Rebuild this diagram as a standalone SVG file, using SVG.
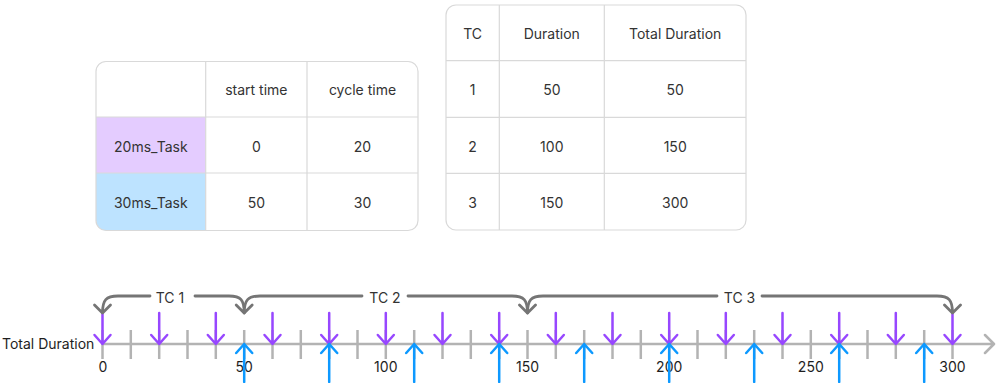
<svg xmlns="http://www.w3.org/2000/svg" xmlns:xlink="http://www.w3.org/1999/xlink" width="1000" height="383" viewBox="0 0 1000 383">
<style>
.t{font-family:Inter,"Noto Sans","Liberation Sans",sans-serif;font-size:14px;fill:#333;text-anchor:middle;dominant-baseline:central}
.b{fill:none;stroke:#d9d9d9;stroke-width:1.2}
.ax{font-family:Inter,"Noto Sans","Liberation Sans",sans-serif;font-size:14px;fill:#1e1e1e;text-anchor:middle}
.tick{stroke:#b3b3b3;stroke-width:2.5;fill:none}
.pa{stroke:#9747ff;stroke-width:2.5;fill:none;stroke-linecap:round;stroke-linejoin:round}
.ba{stroke:#0d99ff;stroke-width:2.5;fill:none;stroke-linecap:round;stroke-linejoin:round}
.br{stroke:#757575;stroke-width:2.8;fill:none;stroke-linecap:round;stroke-linejoin:round}
.tc{font-family:Inter,"Noto Sans","Liberation Sans",sans-serif;font-size:14px;fill:#333;text-anchor:middle;dominant-baseline:central}
</style>
<defs>
<clipPath id="c1"><rect x="96" y="61.5" width="322" height="169" rx="10"/></clipPath>
<path id="tk" class="tick" d="M0,-14 V15"/>
<path id="pd" class="pa" d="M0,-31 V0 M-8,-9 L0,0 L8,-9"/>
<path id="bu" class="ba" d="M0,38 V0 M-8,9 L0,0 L8,9"/>
</defs>
<rect width="1000" height="383" fill="#fff"/>
<g id="table1">
<g clip-path="url(#c1)">
<rect x="96" y="117" width="109.7" height="56" fill="#e4ccff"/>
<rect x="96" y="173" width="109.7" height="58" fill="#bde3ff"/>
</g>
<rect class="b" x="96" y="61.5" width="322" height="169" rx="10"/>
<path class="b" d="M205.7,61.5 V230.5 M307,61.5 V230.5 M96,117 H418 M96,173 H418"/>
<text class="t" x="256.3" y="89.5">start time</text>
<text class="t" x="362.5" y="89.5">cycle time</text>
<text class="t" x="150.8" y="146">20ms_Task</text>
<text class="t" x="256.3" y="146">0</text>
<text class="t" x="362.5" y="146">20</text>
<text class="t" x="150.8" y="202">30ms_Task</text>
<text class="t" x="256.3" y="202">50</text>
<text class="t" x="362.5" y="202">30</text>
</g>
<g id="table2">
<rect class="b" x="446" y="5" width="300" height="225" rx="10"/>
<path class="b" d="M499.3,5 V230 M604.3,5 V230 M446,60.7 H746 M446,117.3 H746 M446,173.3 H746"/>
<text class="t" x="472.6" y="33">TC</text>
<text class="t" x="551.8" y="33">Duration</text>
<text class="t" x="675.2" y="33">Total Duration</text>
<text class="t" x="472.6" y="89">1</text>
<text class="t" x="551.8" y="89">50</text>
<text class="t" x="675.2" y="89">50</text>
<text class="t" x="472.6" y="146">2</text>
<text class="t" x="551.8" y="146">100</text>
<text class="t" x="675.2" y="146">150</text>
<text class="t" x="472.6" y="202">3</text>
<text class="t" x="551.8" y="202">150</text>
<text class="t" x="675.2" y="202">300</text>
</g>
<g id="axis">
<text x="2" y="349" font-family="Inter,'Noto Sans','Liberation Sans',sans-serif" font-size="14" fill="#1e1e1e">Total Duration</text>
<path class="tick" d="M102.5,344 H993 M985,335 L994,344 L985,353" stroke-linecap="round" stroke-linejoin="round"/>
<use href="#tk" x="102.5" y="344"/><use href="#tk" x="130.8" y="344"/><use href="#tk" x="159.2" y="344"/><use href="#tk" x="187.5" y="344"/><use href="#tk" x="215.8" y="344"/><use href="#tk" x="244.2" y="344"/><use href="#tk" x="272.5" y="344"/><use href="#tk" x="300.8" y="344"/><use href="#tk" x="329.2" y="344"/><use href="#tk" x="357.5" y="344"/><use href="#tk" x="385.8" y="344"/><use href="#tk" x="414.2" y="344"/><use href="#tk" x="442.5" y="344"/><use href="#tk" x="470.8" y="344"/><use href="#tk" x="499.2" y="344"/><use href="#tk" x="527.5" y="344"/><use href="#tk" x="555.8" y="344"/><use href="#tk" x="584.2" y="344"/><use href="#tk" x="612.5" y="344"/><use href="#tk" x="640.8" y="344"/><use href="#tk" x="669.2" y="344"/><use href="#tk" x="697.5" y="344"/><use href="#tk" x="725.8" y="344"/><use href="#tk" x="754.2" y="344"/><use href="#tk" x="782.5" y="344"/><use href="#tk" x="810.8" y="344"/><use href="#tk" x="839.2" y="344"/><use href="#tk" x="867.5" y="344"/><use href="#tk" x="895.8" y="344"/><use href="#tk" x="924.2" y="344"/><use href="#tk" x="952.5" y="344"/>
<text class="ax" x="103" y="372">0</text>
<text class="ax" x="244.2" y="372">50</text>
<text class="ax" x="385.8" y="372">100</text>
<text class="ax" x="527.5" y="372">150</text>
<text class="ax" x="669.2" y="372">200</text>
<text class="ax" x="810.8" y="372">250</text>
<text class="ax" x="952.5" y="372">300</text>
</g>
<g id="task20">
<use href="#pd" x="102.5" y="344"/><use href="#pd" x="159.2" y="344"/><use href="#pd" x="215.8" y="344"/><use href="#pd" x="272.5" y="344"/><use href="#pd" x="329.2" y="344"/><use href="#pd" x="385.8" y="344"/><use href="#pd" x="442.5" y="344"/><use href="#pd" x="499.2" y="344"/><use href="#pd" x="555.8" y="344"/><use href="#pd" x="612.5" y="344"/><use href="#pd" x="669.2" y="344"/><use href="#pd" x="725.8" y="344"/><use href="#pd" x="782.5" y="344"/><use href="#pd" x="839.2" y="344"/><use href="#pd" x="895.8" y="344"/><use href="#pd" x="952.5" y="344"/>
</g>
<g id="task30">
<use href="#bu" x="244.2" y="344"/><use href="#bu" x="329.2" y="344"/><use href="#bu" x="414.2" y="344"/><use href="#bu" x="499.2" y="344"/><use href="#bu" x="584.2" y="344"/><use href="#bu" x="669.2" y="344"/><use href="#bu" x="754.2" y="344"/><use href="#bu" x="839.2" y="344"/><use href="#bu" x="924.2" y="344"/>
</g>
<g id="connectors">
<path class="br" d="M150,296 H118 C106,296 102.5,300 102.5,313 M94.5,305 L102.5,313 L110.5,305"/>
<path class="br" d="M195,296 H229 C241,296 244.2,300 244.2,313 M236.2,305 L244.2,313 L252.2,305"/>
<path class="br" d="M362,296 H260 C248,296 244.2,300 244.2,313"/>
<path class="br" d="M408,296 H512 C524,296 527.5,300 527.5,313 M519.5,305 L527.5,313 L535.5,305"/>
<path class="br" d="M717,296 H543 C531,296 527.5,300 527.5,313"/>
<path class="br" d="M762,296 H937 C949,296 952.5,300 952.5,313 M944.5,305 L952.5,313 L960.5,305"/>
<text class="tc" x="170" y="297">TC 1</text>
<text class="tc" x="385" y="297">TC 2</text>
<text class="tc" x="739.5" y="297">TC 3</text>
</g>
</svg>
